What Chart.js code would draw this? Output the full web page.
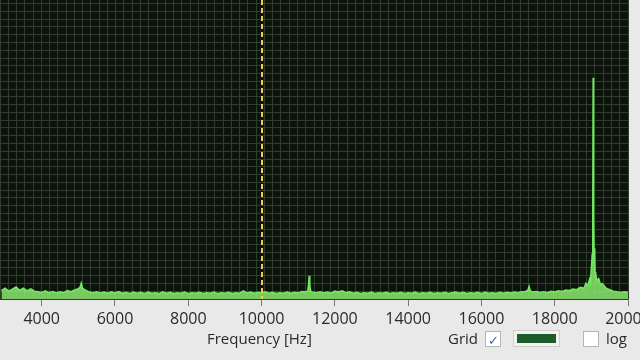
<!DOCTYPE html>
<html>
<head>
<meta charset="utf-8">
<script src="https://cdn.jsdelivr.net/npm/chart.js@4.4.1/dist/chart.umd.min.js"></script>
<style>
html, body { margin: 0; padding: 0; background: #e9e9e9; }
#wrap { position: relative; width: 640px; height: 360px; overflow: hidden; font-family: "Open Sans", sans-serif; color: #2a2a2a; }
canvas { position: absolute; left: 0; top: 0; }
.lbl { position: absolute; font-size: 15px; line-height: 1; white-space: nowrap; }
.box { position: absolute; background: #fff; border: 1px solid #b5b5b5; box-sizing: border-box; }
</style>
</head>
<body>
<div id="wrap">
  <canvas id="spec" width="640" height="360"></canvas>
  <div class="lbl" style="left:207px; top:331px;">Frequency [Hz]</div>
  <div class="lbl" style="left:448px; top:331px;">Grid</div>
  <div class="box" style="left:485px; top:331px; width:16px; height:16px;">
    <span style="position:absolute; left:2px; top:-1px; font-size:13px; color:#3d62c8;">✓</span>
  </div>
  <div class="box" style="left:513px; top:330px; width:47px; height:17px; background:#f2f2f2; border-color:#cfcfcf;">
    <div style="position:absolute; left:3px; top:3px; width:39px; height:9px; background:#1f5c2c;"></div>
  </div>
  <div class="box" style="left:583px; top:331px; width:16px; height:16px;"></div>
  <div class="lbl" style="left:606px; top:331px;">log</div>
</div>
<script>
// spectrum, Hz vs. level (0..100 of full scale)
const freqHz = [
  2900, 3000, 3100, 3200, 3300, 3400, 3500, 3600, 3700, 3800,
  3900, 4000, 4100, 4200, 4300, 4400, 4500, 4600, 4700, 4800,
  4900, 5000, 5050, 5080, 5110, 5200, 5300, 5400, 5500, 5600,
  5700, 5800, 5900, 6000, 6100, 6200, 6300, 6400, 6500, 6600,
  6700, 6800, 6900, 7000, 7100, 7200, 7300, 7400, 7500, 7600,
  7700, 7800, 7900, 8000, 8100, 8200, 8300, 8400, 8500, 8600,
  8700, 8800, 8900, 9000, 9100, 9200, 9300, 9400, 9500, 9600,
  9700, 9800, 9900, 10000, 10100, 10200, 10300, 10400, 10500, 10600,
  10700, 10800, 10900, 11000, 11100, 11200, 11260, 11285, 11300, 11315,
  11340, 11400, 11500, 11600, 11700, 11800, 11900, 12000, 12100, 12200,
  12300, 12400, 12500, 12600, 12700, 12800, 12900, 13000, 13100, 13200,
  13300, 13400, 13500, 13600, 13700, 13800, 13900, 14000, 14100, 14200,
  14300, 14400, 14500, 14600, 14700, 14800, 14900, 15000, 15100, 15200,
  15300, 15400, 15500, 15600, 15700, 15800, 15900, 16000, 16100, 16200,
  16300, 16400, 16500, 16600, 16700, 16800, 16900, 17000, 17100, 17200,
  17270, 17300, 17330, 17400, 17500, 17600, 17700, 17800, 17900, 18000,
  18100, 18200, 18300, 18400, 18500, 18600, 18700, 18800, 18850, 18900,
  18950, 18975, 19000, 19025, 19040, 19050, 19060, 19075, 19090, 19100,
  19110, 19125, 19150, 19200, 19250, 19300, 19400, 19500, 19600, 19700,
  19800, 19900, 20000
];
const level = [
  2.8, 3.6, 2.6, 3.3, 4.0, 2.9, 3.6, 2.7, 3.4, 2.6,
  2.4, 2.2, 2.7, 2.1, 2.5, 2.0, 2.4, 2.1, 2.8, 2.4,
  3.0, 3.4, 4.0, 5.2, 3.6, 2.9, 2.3, 2.1, 2.4, 2.0,
  2.3, 1.9, 2.4, 2.0, 2.5, 1.9, 2.2, 1.8, 2.3, 1.9,
  2.2, 1.8, 2.3, 1.9, 2.1, 1.8, 2.4, 1.9, 2.2, 1.8,
  2.1, 1.9, 2.3, 1.8, 2.1, 1.9, 2.2, 1.8, 2.1, 1.9,
  2.3, 1.8, 2.1, 1.9, 2.2, 1.8, 2.1, 1.9, 2.7, 2.0,
  2.3, 1.9, 2.2, 2.0, 2.4, 1.9, 2.2, 1.8, 2.1, 1.9,
  2.3, 1.9, 2.2, 2.0, 2.5, 2.4, 2.6, 5.0, 7.8, 4.6,
  2.6, 2.2, 2.1, 2.4, 2.0, 2.3, 1.9, 2.6, 2.3, 2.7,
  2.1, 2.4, 1.9, 2.2, 1.8, 2.1, 1.9, 2.3, 1.8, 2.1,
  1.9, 2.2, 1.8, 2.1, 1.9, 2.2, 1.8, 2.1, 1.9, 2.3,
  1.8, 2.1, 1.9, 2.2, 1.8, 2.1, 1.9, 2.2, 1.8, 2.1,
  2.3, 1.9, 2.2, 1.8, 2.1, 1.9, 2.2, 1.8, 2.3, 1.9,
  2.1, 1.8, 2.2, 1.9, 2.2, 2.0, 2.3, 2.1, 2.4, 2.5,
  2.9, 4.2, 2.8, 2.3, 2.5, 2.2, 2.4, 2.1, 2.6, 2.3,
  2.7, 2.5, 3.0, 2.8, 3.3, 3.1, 3.9, 3.6, 5.2, 4.4,
  6.6, 5.4, 10, 15, 30, 74, 28, 12, 17, 9,
  7.5, 8.5, 6.0, 6.8, 4.8, 5.2, 3.6, 3.1, 2.6, 2.4,
  2.2, 2.4, 2.2
];
const tickLabels = [4000, 6000, 8000, 10000, 12000, 14000, 16000, 18000, 20000];
const markerHz = 10000;

const gridColor = '#2f3d2f';

const bgPlugin = {
  id: 'bg',
  beforeDraw(chart) {
    const c = chart.ctx, a = chart.chartArea;
    c.save();
    c.fillStyle = '#e9e9e9';
    c.fillRect(0, 0, chart.width, chart.height);
    c.fillStyle = '#0b130b';
    c.fillRect(a.left, a.top, a.right - a.left, a.bottom - a.top);
    c.restore();
  }
};

const markerPlugin = {
  id: 'marker',
  afterDatasetsDraw(chart) {
    const c = chart.ctx, a = chart.chartArea;
    const x = Math.round(chart.scales.x.getPixelForValue(markerHz));
    c.save();
    c.strokeStyle = '#f4cc4e';
    c.lineWidth = 2;
    c.setLineDash([5, 3]);
    c.beginPath();
    c.moveTo(x, a.top);
    c.lineTo(x, a.bottom);
    c.stroke();
    c.restore();
  }
};

const noPad = s => { s.paddingLeft = 0; s.paddingRight = 0; };

const ctx = document.getElementById('spec').getContext('2d');
new Chart(ctx, {
  type: 'line',
  data: {
    datasets: [{
      data: freqHz.map((f, i) => ({ x: f, y: level[i] })),
      borderColor: '#70ea5c',
      borderWidth: 1.6,
      backgroundColor: 'rgba(140, 232, 112, 0.85)',
      fill: 'origin',
      pointRadius: 0,
      tension: 0,
      xAxisID: 'x',
      yAxisID: 'y'
    }]
  },
  options: {
    responsive: false,
    animation: false,
    layout: { autoPadding: false, padding: { left: 0, right: 12, top: 0, bottom: 0 } },
    plugins: { legend: { display: false }, tooltip: { enabled: false } },
    scales: {
      x: {
        type: 'linear',
        position: 'bottom',
        min: 2862,
        max: 20000,
        afterFit: s => { s.height = 61; noPad(s); },
        afterBuildTicks: s => { s.ticks = tickLabels.map(v => ({ value: v })); },
        ticks: {
          color: '#2a2a2a',
          font: { family: 'Open Sans', size: 16 },
          padding: 4,
          maxRotation: 0,
          autoSkip: false,
          callback: v => String(v)
        },
        grid: { drawOnChartArea: false, tickLength: 7, color: '#777' },
        border: { display: false }
      },
      gx: {
        axis: 'x',
        type: 'linear',
        position: 'top',
        min: 2862,
        max: 20000,
        afterFit: s => { s.height = 0; noPad(s); },
        ticks: { display: false, stepSize: 225, includeBounds: false },
        grid: { color: gridColor, drawTicks: false },
        border: { display: false }
      },
      y: {
        min: 0,
        max: 100,
        afterFit: s => { s.width = 0; s.paddingTop = 0; s.paddingBottom = 0; },
        ticks: { display: false, stepSize: 2.6, includeBounds: false },
        grid: { color: gridColor, drawTicks: false },
        border: { display: false }
      }
    }
  },
  plugins: [bgPlugin, markerPlugin]
});
</script>
</body>
</html>
